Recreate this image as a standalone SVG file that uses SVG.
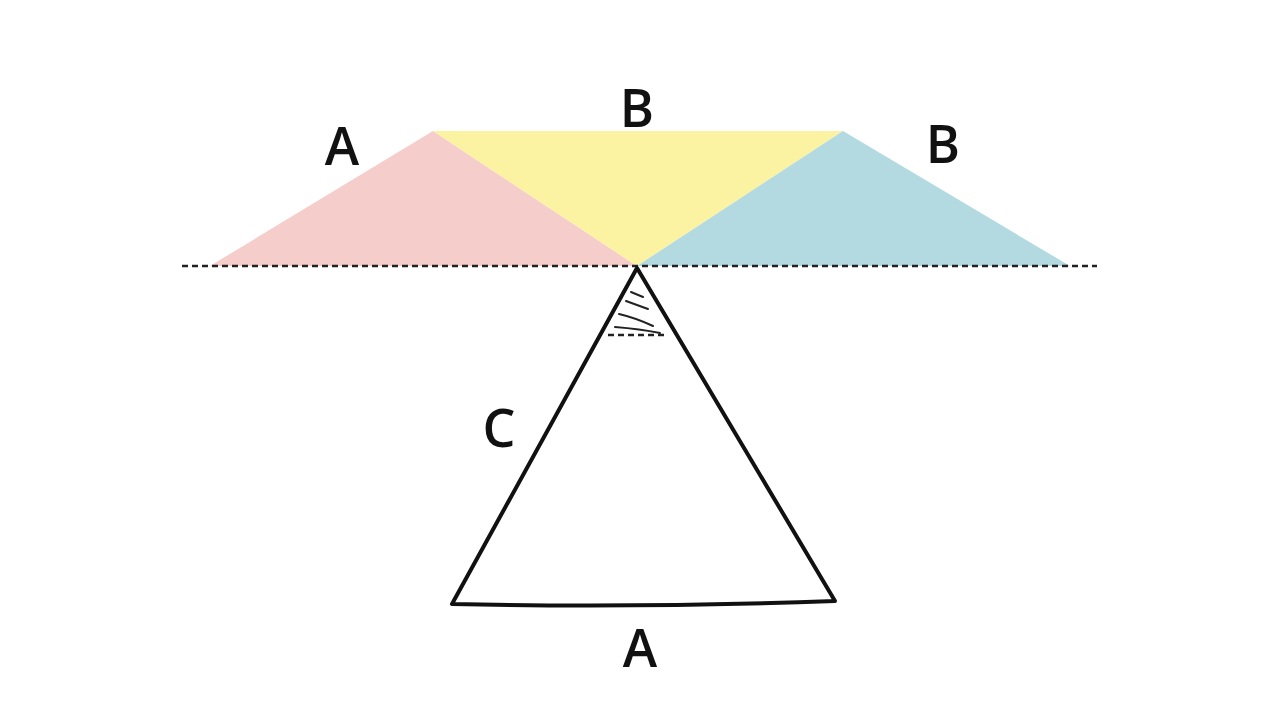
<svg xmlns="http://www.w3.org/2000/svg" width="1280" height="720" viewBox="0 0 1280 720">
<style>
.lbl{font-family:"Open Sans","Liberation Sans",sans-serif;font-size:52px;font-weight:600;fill:#111;text-anchor:middle}
.dash{stroke:#222;stroke-width:2.5;stroke-dasharray:6 4;fill:none}
.edge{stroke:#111;stroke-width:4;fill:none;stroke-linejoin:round;stroke-linecap:round}
.hatch{stroke:#222;stroke-width:2;fill:none;stroke-linecap:round}
</style>
<rect width="1280" height="720" fill="#fff"/>
<g id="pink-triangle"><polygon points="210,266 433,131 637,266" fill="#F5CDCB"/></g>
<g id="yellow-triangle"><polygon points="433,131 843,131 637,266" fill="#FCF3A2"/></g>
<g id="blue-triangle"><polygon points="843,131 1070,266 637,266" fill="#B4DAE1"/></g>
<g id="baseline"><line class="dash" x1="182" y1="266" x2="1097" y2="266"/></g>
<g id="big-triangle">
<path class="edge" d="M637,268 L452,604 Q640,608 835,601 Z"/>
</g>
<g id="hatched-region">
<line class="dash" x1="608" y1="335" x2="667" y2="335"/>
<path class="hatch" d="M631,292 L643,297 M626,301 L648,309 M619,314 Q636,318 653,326 M615,327 Q640,329 660,333"/>
</g>
<g id="labels">
<text class="lbl" x="342" y="165">A</text>
<text class="lbl" x="637" y="127">B</text>
<text class="lbl" x="943" y="163">B</text>
<text class="lbl" x="499" y="447">C</text>
<text class="lbl" x="640" y="667">A</text>
</g>
</svg>
